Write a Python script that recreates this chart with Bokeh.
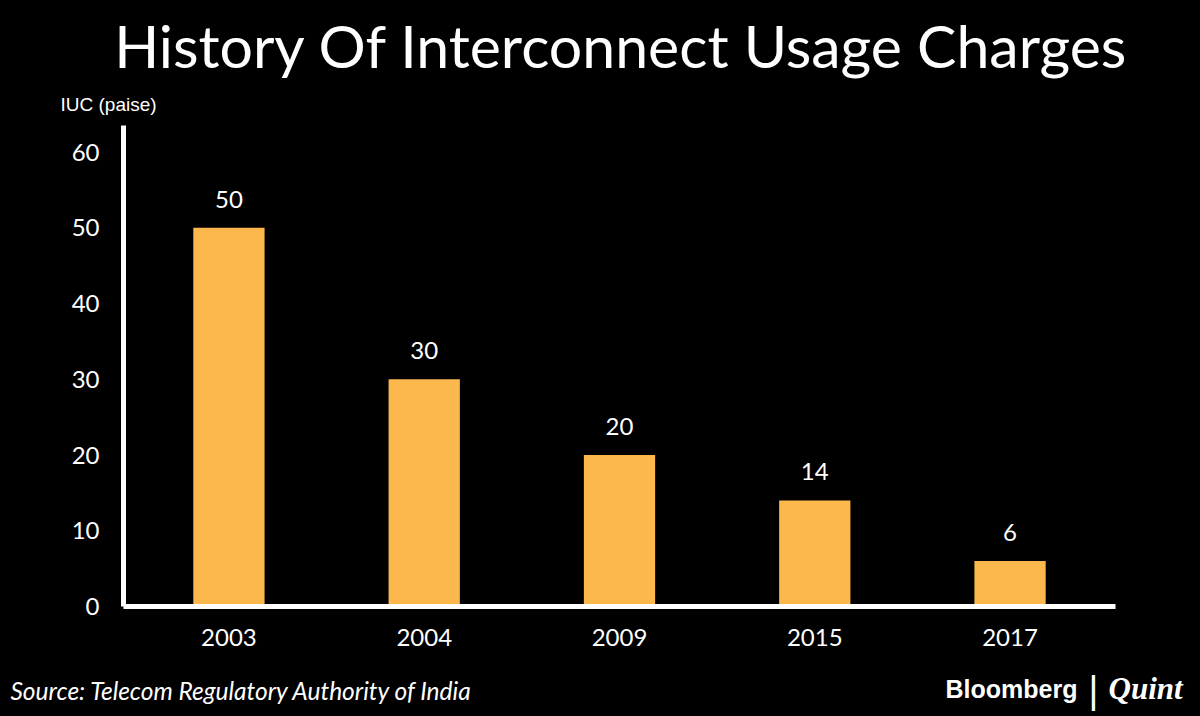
from bokeh.plotting import figure
from bokeh.layouts import column
from bokeh.models import Label, FixedTicker, Range1d, FactorRange
from bokeh.core.properties import value
from bokeh.embed import file_html
from bokeh.resources import INLINE

years = ["2003", "2004", "2009", "2015", "2017"]
iuc = [50, 30, 20, 14, 6]
y_ticks = [0, 10, 20, 30, 40, 50, 60]
title_text = "History Of Interconnect Usage Charges"
unit_text = "IUC (paise)"
source_text = "Source: Telecom Regulatory Authority of India"

BAR = "#FCB84C"
W = 1200
H_HEAD, H_MAIN, H_FOOT = 118, 542, 56


def blank(h):
    f = figure(width=W, height=h, x_range=Range1d(0, W), y_range=Range1d(0, h),
               title=None, output_backend="svg", toolbar_location=None,
               x_axis_location=None, y_axis_location=None,
               background_fill_color="black", border_fill_color="black",
               min_border=0)
    f.frame_align = False
    f.outline_line_color = None
    f.grid.visible = False
    return f


def lab(f, x, y, text, **kw):
    f.add_layout(Label(x=x, y=y, text=text, text_color="white",
                       text_baseline="alphabetic", **kw))


# header
head = blank(H_HEAD)
lab(head, 621, 73, title_text, text_font="Lato", text_font_size="59px", text_align="center")
lab(head, 60, 14, unit_text, text_font="Liberation Sans", text_font_size="19px")

# main chart
p = figure(width=W, height=H_MAIN, title=None,
           x_range=FactorRange(*years, range_padding=0.04, range_padding_units="absolute"),
           y_range=Range1d(0, 63.5), output_backend="svg", toolbar_location=None,
           background_fill_color="black", border_fill_color="black",
           min_border_left=123, min_border_right=85, min_border_top=7,
           min_border_bottom=54)
p.outline_line_color = None
p.grid.visible = False

p.vbar(x=years, top=iuc, width=0.365, fill_color=BAR, line_color=None)
p.text(x=years, y=iuc, text=[str(v) for v in iuc], text_color="white",
       text_font=value("Lato"), text_font_size="24px", text_align="center",
       text_baseline="bottom", y_offset=-20)

for ax in (p.xaxis[0], p.yaxis[0]):
    ax.axis_line_color = "white"
    ax.axis_line_width = 5
    ax.major_tick_line_color = None
    ax.minor_tick_line_color = None
    ax.major_tick_in = 0
    ax.major_tick_out = 0
    ax.major_label_text_color = "white"
    ax.major_label_text_font = "Lato"
    ax.major_label_text_font_size = "24px"
p.yaxis[0].ticker = FixedTicker(ticks=y_ticks)
p.yaxis[0].major_label_standoff = 24
p.xaxis[0].major_label_standoff = 22

# footer
foot = blank(H_FOOT)
lab(foot, 10, 26, source_text, text_font="Lato", text_font_style="italic", text_font_size="24.5px")
lab(foot, 945, 28, "Bloomberg", text_font="Liberation Sans", text_font_style="bold", text_font_size="25px")
lab(foot, 1088, 27, "|", text_font="Liberation Sans", text_font_size="38px")
lab(foot, 1108, 28, "Quint", text_font="Liberation Serif", text_font_style="bold italic", text_font_size="31px")

layout = column(head, p, foot, spacing=0)
html = file_html(layout, INLINE)
html = html.replace("<head>", "<head><style>html,body{background:#000;margin:0;padding:0}</style>", 1)
open("out.html", "w").write(html)
